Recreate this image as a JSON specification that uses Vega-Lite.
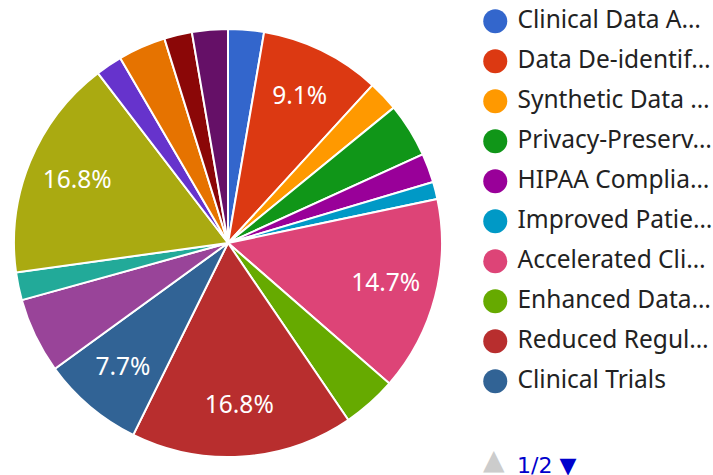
{
  "$schema": "https://vega.github.io/schema/vega-lite/v6.json",
  "width": 456,
  "height": 486,
  "autosize": "none",
  "padding": {"left": 0, "top": 0, "right": 257, "bottom": 0},
  "background": "white",
  "config": {"view": {"stroke": null}, "font": "Noto Sans"},
  "title": {
    "text": "1/2 ▼",
    "orient": "top",
    "anchor": "start",
    "frame": "group",
    "dx": 517,
    "dy": 482,
    "fontSize": 22,
    "fontWeight": "normal",
    "color": "#0000cc",
    "font": "DejaVu Sans"
  },
  "data": {
    "values": [
      {"idx": 1, "name": "Clinical Data Analysis", "value": 2.7, "label": ""},
      {"idx": 2, "name": "Data De-identification", "value": 9.1, "label": "9.1%"},
      {"idx": 3, "name": "Synthetic Data Generation", "value": 2.3, "label": ""},
      {"idx": 4, "name": "Privacy-Preserving Techniques", "value": 4.1, "label": ""},
      {"idx": 5, "name": "HIPAA Compliance", "value": 2.2, "label": ""},
      {"idx": 6, "name": "Improved Patient Privacy", "value": 1.3, "label": ""},
      {"idx": 7, "name": "Accelerated Clinical Research", "value": 14.7, "label": "14.7%"},
      {"idx": 8, "name": "Enhanced Data Sharing", "value": 4.1, "label": ""},
      {"idx": 9, "name": "Reduced Regulatory Burden", "value": 16.8, "label": "16.8%"},
      {"idx": 10, "name": "Clinical Trials", "value": 7.7, "label": "7.7%"},
      {"idx": 11, "name": "Electronic Health Records", "value": 5.7, "label": ""},
      {"idx": 12, "name": "Medical Imaging", "value": 2.1, "label": ""},
      {"idx": 13, "name": "Machine Learning Training", "value": 16.8, "label": "16.8%"},
      {"idx": 14, "name": "Genomic Research", "value": 2.0, "label": ""},
      {"idx": 15, "name": "Drug Discovery", "value": 3.6, "label": ""},
      {"idx": 16, "name": "Public Health Surveillance", "value": 2.1, "label": ""},
      {"idx": 17, "name": "Rare Disease Research", "value": 2.7, "label": ""}
    ]
  },
  "encoding": {
    "theta": {"field": "value", "type": "quantitative", "stack": true},
    "order": {"field": "idx", "type": "quantitative"}
  },
  "layer": [
    {
      "mark": {"type": "arc", "radius": 214, "stroke": "white", "strokeWidth": 2},
      "encoding": {
        "color": {
          "field": "name",
          "type": "nominal",
          "sort": null,
          "scale": {
            "domain": ["Clinical Data Analysis", "Data De-identification", "Synthetic Data Generation", "Privacy-Preserving Techniques", "HIPAA Compliance", "Improved Patient Privacy", "Accelerated Clinical Research", "Enhanced Data Sharing", "Reduced Regulatory Burden", "Clinical Trials", "Electronic Health Records", "Medical Imaging", "Machine Learning Training", "Genomic Research", "Drug Discovery", "Public Health Surveillance", "Rare Disease Research"],
            "range": ["#3366cc", "#dc3912", "#ff9900", "#109618", "#990099", "#0099c6", "#dd4477", "#66aa00", "#b82e2e", "#316395", "#994499", "#22aa99", "#aaaa11", "#6633cc", "#e67300", "#8b0707", "#651067"]
          },
          "legend": {
            "orient": "none",
            "legendX": 483,
            "legendY": 9,
            "title": "▲",
            "titleOrient": "bottom",
            "titleAnchor": "start",
            "titleColor": "#cccccc",
            "titleFont": "DejaVu Sans",
            "titleFontSize": 28,
            "titleFontWeight": "normal",
            "titlePadding": 54,
            "values": ["Clinical Data Analysis", "Data De-identification", "Synthetic Data Generation", "Privacy-Preserving Techniques", "HIPAA Compliance", "Improved Patient Privacy", "Accelerated Clinical Research", "Enhanced Data Sharing", "Reduced Regulatory Burden", "Clinical Trials"],
            "symbolType": "circle",
            "symbolSize": 576,
            "symbolStrokeWidth": 0,
            "labelFontSize": 24.5,
            "labelFont": "Noto Sans",
            "labelColor": "#222222",
            "labelLimit": 196,
            "labelOffset": 10,
            "rowPadding": 14
          }
        }
      }
    },
    {
      "mark": {"type": "text", "radius": 163, "fontSize": 24.5, "color": "white", "font": "Noto Sans"},
      "encoding": {"text": {"field": "label", "type": "nominal"}}
    }
  ]
}
